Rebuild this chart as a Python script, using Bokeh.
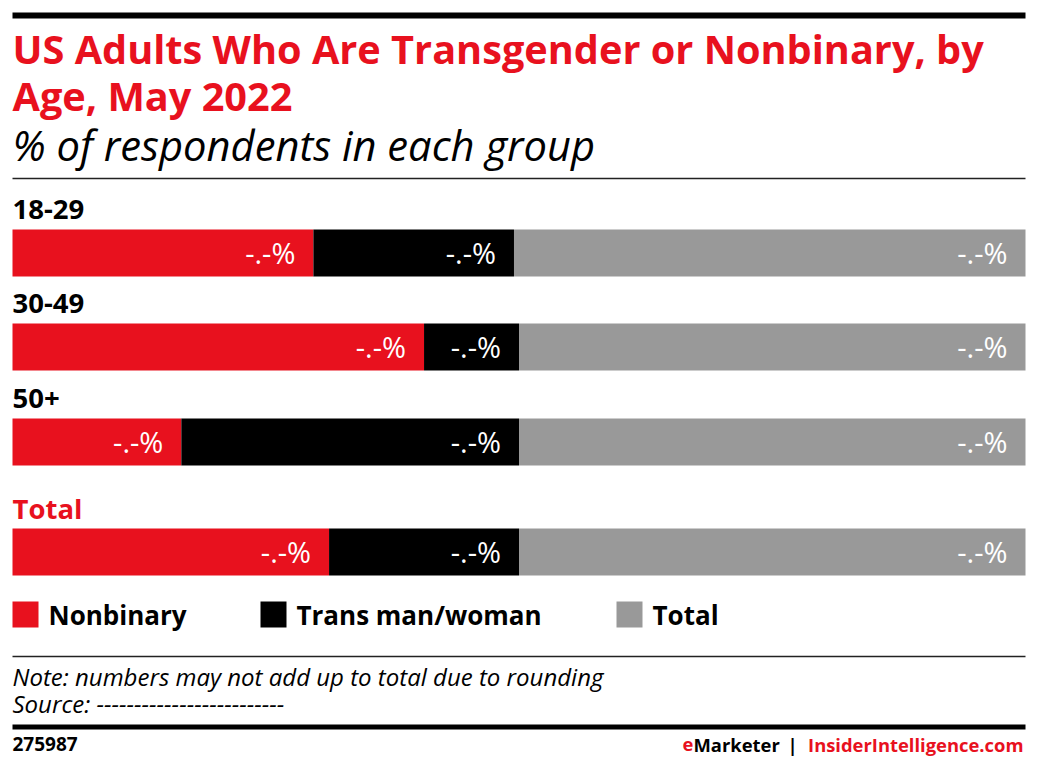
from bokeh.plotting import figure
from bokeh.models import ColumnDataSource, Range1d
from bokeh.core.properties import value
from bokeh.embed import file_html
from bokeh.resources import INLINE

# ---- data ----
age_groups = ["18-29", "30-49", "50+", "Total"]
nonbinary = [3.0, 1.3, 0.1, 1.0]
trans = [2.0, 0.3, 0.2, 0.6]
total = [5.1, 1.6, 0.3, 1.6]
value_labels = ["-.-%", "-.-%", "-.-%", "-.-%"]
series_names = ["Nonbinary", "Trans man/woman", "Total"]

title_lines = ["US Adults Who Are Transgender or Nonbinary, by", "Age, May 2022"]
subtitle = "% of respondents in each group"
note = "Note: numbers may not add up to total due to rounding"
source = "Source: -------------------------"
chart_id = "275987"

RED = "#E8111E"
BLACK = "#000000"
GRAY = "#999999"
colors = [RED, BLACK, GRAY]
FONT = "Open Sans"

W, H = 1030, 763
OFF = 0
L_PX, R_PX = 12, 1025


def X(px):
    return (px - L_PX) / (R_PX - L_PX) * 100.0


def Y(py):
    return py - OFF


def base(py, size):
    # compensate renderer's baseline shift so that the baseline lands at py
    return Y(py - 0.375 * size)


p = figure(width=W, height=H, output_backend="svg", toolbar_location=None,
           x_range=Range1d(X(OFF), X(OFF + W)), y_range=Range1d(H + OFF, OFF),
           min_border=0)
p.axis.visible = False
p.grid.visible = False
p.outline_line_color = None
p.background_fill_color = "white"
p.border_fill_color = "white"

# normalized stacked shares
sums = [a + b + c for a, b, c in zip(nonbinary, trans, total)]
s1 = [a / s * 100 for a, s in zip(nonbinary, sums)]
s2 = [b / s * 100 for b, s in zip(trans, sums)]
s3 = [c / s * 100 for c, s in zip(total, sums)]
e1 = s1
e2 = [a + b for a, b in zip(s1, s2)]
e3 = [a + b for a, b in zip(e2, s3)]

row_tops = [229, 323, 418, 528]
bar_h = 47
yc = [Y(t + bar_h / 2) for t in row_tops]

src = ColumnDataSource(dict(y=yc, z=[0] * 4, e1=e1, e2=e2, e3=e3,
                            lab=value_labels))
p.hbar(y="y", left="z", right="e1", height=bar_h, fill_color=RED, line_color=None, source=src)
p.hbar(y="y", left="e1", right="e2", height=bar_h, fill_color=BLACK, line_color=None, source=src)
p.hbar(y="y", left="e2", right="e3", height=bar_h, fill_color=GRAY, line_color=None, source=src)

pad = 18 / (R_PX - L_PX) * 100
for col in ["e1", "e2", "e3"]:
    src.data[col + "_t"] = [v - pad for v in src.data[col]]
    p.text(x=col + "_t", y="y", text="lab", source=src, text_align="right",
           text_baseline="middle", text_color="white", text_font=value(FONT),
           text_font_size="29px", y_offset=-1)

# category labels
cat_colors = [BLACK, BLACK, BLACK, RED]
p.text(x=[X(12)] * 4, y=[base(t - 10, 27.5) for t in row_tops], text=age_groups,
       text_color=cat_colors, text_font=value(FONT), text_font_style="bold",
       text_font_size="27.5px", text_baseline="alphabetic")

# title & subtitle
p.text(x=[X(12)] * 2, y=[base(63, 39.7), base(110, 39.7)], text=title_lines, text_color=RED,
       text_font=value(FONT), text_font_style="bold", text_font_size="39.7px",
       text_baseline="alphabetic")
p.text(x=[X(12)], y=[base(160, 41.7)], text=[subtitle], text_color=BLACK,
       text_font=value(FONT), text_font_style="italic", text_font_size="41.7px",
       text_baseline="alphabetic")

# rules
p.segment(x0=[X(12)], x1=[X(1025)], y0=[Y(15)], y1=[Y(15)], line_color=BLACK, line_width=6)
p.segment(x0=[X(12)], x1=[X(1025)], y0=[Y(178)], y1=[Y(178)], line_color="#222222", line_width=1.5)
p.segment(x0=[X(12)], x1=[X(1025)], y0=[Y(656)], y1=[Y(656)], line_color="#222222", line_width=1.5)
p.segment(x0=[X(12)], x1=[X(1025)], y0=[Y(726.5)], y1=[Y(726.5)], line_color=BLACK, line_width=5)

# legend
leg_x = [12, 260, 616]
for lx, c, name in zip(leg_x, colors, series_names):
    p.rect(x=[X(lx + 13)], y=[Y(614)], width=26 / (R_PX - L_PX) * 100, height=26,
           fill_color=c, line_color=None)
    p.text(x=[X(lx + 36)], y=[base(624, 26)], text=[name], text_color=BLACK,
           text_font=value(FONT), text_font_style="bold", text_font_size="26px",
           text_baseline="alphabetic")

# notes
p.text(x=[X(12)] * 2, y=[base(685, 24), base(712, 24)], text=[note, source], text_color=BLACK,
       text_font=value(FONT), text_font_style="italic", text_font_size="24px",
       text_baseline="alphabetic")

# footer
p.text(x=[X(12)], y=[base(751, 19)], text=[chart_id], text_color=BLACK,
       text_font=value(FONT), text_font_style="bold", text_font_size="19px",
       text_baseline="alphabetic")
p.text(x=[X(1023)], y=[base(751, 18.4)], text=["InsiderIntelligence.com"], text_color=RED,
       text_font=value(FONT), text_font_style="bold", text_font_size="18.4px",
       text_align="right", text_baseline="alphabetic")
p.text(x=[X(792)], y=[base(751, 18.4)], text=["|"], text_color=BLACK,
       text_font=value(FONT), text_font_style="bold", text_font_size="18.4px",
       text_align="center", text_baseline="alphabetic")
p.text(x=[X(693)], y=[base(751, 18.4)], text=["Marketer"], text_color=BLACK,
       text_font=value(FONT), text_font_style="bold", text_font_size="18.4px",
       text_align="left", text_baseline="alphabetic")
p.text(x=[X(682)], y=[base(751, 18.4)], text=["e"], text_color=RED,
       text_font=value(FONT), text_font_style="bold", text_font_size="18.4px",
       text_align="left", text_baseline="alphabetic")

open("out.html", "w").write(file_html(p, INLINE))
